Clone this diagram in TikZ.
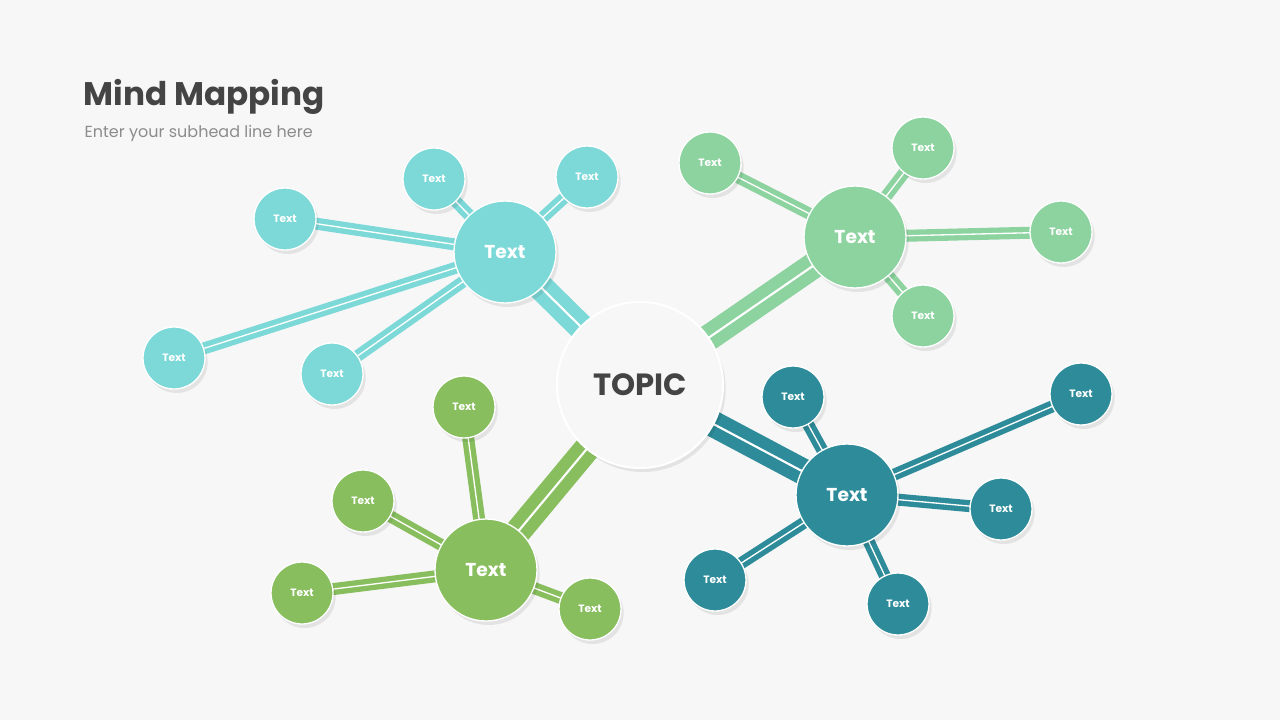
\documentclass[tikz,border=0pt]{standalone}
\usepackage{fontspec}
\setmainfont{Poppins}
\usetikzlibrary{shadows}
\definecolor{bg}{HTML}{F7F7F7}
\definecolor{cy}{HTML}{7DD8D8}
\definecolor{gr}{HTML}{8DD3A0}
\definecolor{li}{HTML}{88BE5E}
\definecolor{te}{HTML}{2E8C9A}
\definecolor{tx}{HTML}{444444}
\tikzset{
 shad/.style={drop shadow={shadow xshift=2pt,shadow yshift=-3pt,opacity=0.08,fill=black}},
 hub/.style={circle,minimum size=76.5pt,inner sep=0pt,draw=white,line width=1pt,text=white,font=\fontsize{14}{14}\selectfont\bfseries,shad},
 leaf/.style={circle,minimum size=46.5pt,inner sep=0pt,draw=white,line width=1pt,text=white,font=\fontsize{8}{9}\selectfont\bfseries,shad},
 mainl/.style={draw=#1,line width=9pt,double=white,double distance=1.6pt},
 minl/.style={draw=#1,line width=4pt,double=white,double distance=1pt},
}
\begin{document}
\begin{tikzpicture}[x=0.75pt,y=-0.75pt]
\fill[bg] (0,0) rectangle (1280,720);
\useasboundingbox (0,0) rectangle (1280,720);
\node[anchor=west,text=tx,font=\fontsize{24.5}{25}\selectfont\bfseries] (title) at (79,97) {Mind Mapping};
\node[anchor=west,text=black!45,font=\fontsize{12}{12}\selectfont] (sub) at (80,133) {Enter your subhead line here};
\coordinate (T) at (640,385);
\coordinate (C) at (505,252); \coordinate (G) at (855,237);
\coordinate (L) at (486,570); \coordinate (E) at (847,495);
\draw[mainl=cy] (T)--(C); \draw[mainl=gr] (T)--(G);
\draw[mainl=li] (T)--(L); \draw[mainl=te] (T)--(E);
\foreach \p in {(434,179),(587,177),(285,219),(174,358),(332,374)} \draw[minl=cy] (C)--\p;
\foreach \p in {(710,163),(923,148),(1061,232),(923,316)} \draw[minl=gr] (G)--\p;
\foreach \p in {(464,407),(363,501),(302,593),(590,609)} \draw[minl=li] (L)--\p;
\foreach \p in {(793,397),(1081,394),(1001,509),(715,580),(898,604)} \draw[minl=te] (E)--\p;
\node[circle,minimum size=124.5pt,inner sep=0pt,fill=bg,draw=white,line width=1.5pt,shad,text=tx,font=\fontsize{23}{23}\selectfont\bfseries] (topic) at (T) {TOPIC};
\node[hub,fill=cy] (hc) at (C) {Text};
\node[hub,fill=gr] (hg) at (G) {Text};
\node[hub,fill=li] (hl) at (L) {Text};
\node[hub,fill=te] (he) at (E) {Text};
\foreach \p/\n in {(434,179)/c1,(587,177)/c2,(285,219)/c3,(174,358)/c4,(332,374)/c5} \node[leaf,fill=cy] (\n) at \p {Text};
\foreach \p/\n in {(710,163)/g1,(923,148)/g2,(1061,232)/g3,(923,316)/g4} \node[leaf,fill=gr] (\n) at \p {Text};
\foreach \p/\n in {(464,407)/l1,(363,501)/l2,(302,593)/l3,(590,609)/l4} \node[leaf,fill=li] (\n) at \p {Text};
\foreach \p/\n in {(793,397)/e1,(1081,394)/e2,(1001,509)/e3,(715,580)/e4,(898,604)/e5} \node[leaf,fill=te] (\n) at \p {Text};
\end{tikzpicture}
\end{document}
